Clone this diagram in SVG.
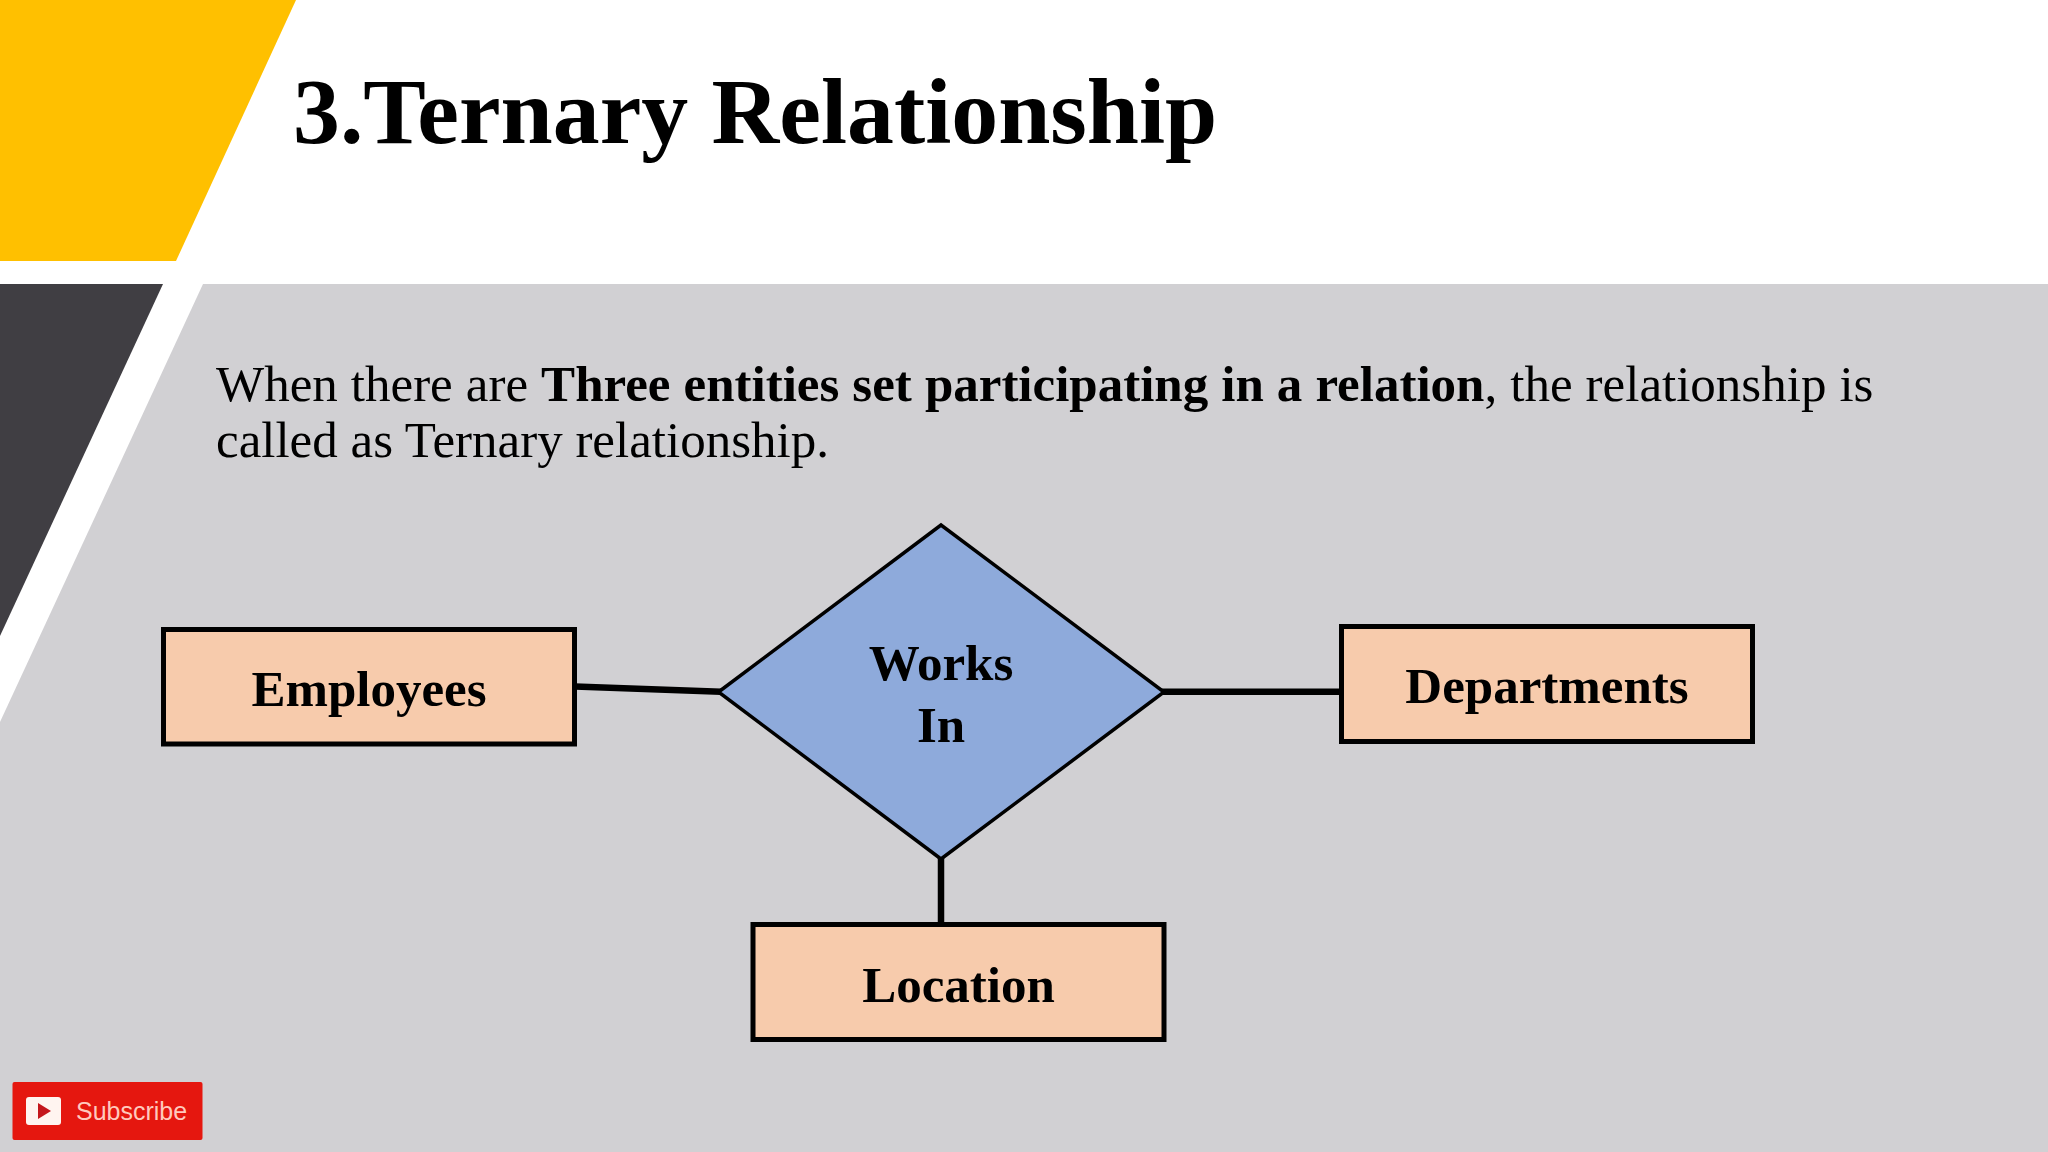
<svg xmlns="http://www.w3.org/2000/svg" width="2048" height="1152" viewBox="0 0 2048 1152">
<style>
.serif{font-family:"Liberation Serif","Times New Roman",serif;fill:#000}
.ent{fill:#F7CBAC;stroke:#000;stroke-width:5}
.lab{font-size:51px;font-weight:700;text-anchor:middle}
.con{stroke:#000;stroke-width:6.500;fill:none}
</style>
<rect width="2048" height="1152" fill="#fff"/>
<polygon points="0,0 296,0 176,261 0,261" fill="#FFC000"/>
<polygon points="0,284 163,284 0,636" fill="#403E43"/>
<polygon points="203,284 2048,284 2048,1152 0,1152 0,722" fill="#D1D0D3"/>
<text class="serif" x="293" y="143" font-size="93.800" font-weight="700">3.Ternary Relationship</text>
<text class="serif" font-size="51"><tspan x="216" y="401" word-spacing="0.300">When there are <tspan font-weight="700">Three entities set participating in a relation</tspan>, the relationship is</tspan><tspan x="216" y="457">called as Ternary relationship.</tspan></text>
<g id="connectors">
<line class="con" x1="575" y1="686.500" x2="721" y2="691.700"/>
<line class="con" x1="1161" y1="691.700" x2="1345" y2="691.700"/>
<line class="con" x1="941" y1="857" x2="941" y2="924"/>
</g>
<g id="rel-works-in">
<polygon points="718.500,692 941,525 1164,692 941,859" fill="#8EAADB" stroke="#000" stroke-width="3.500"/>
<text class="serif lab" x="941" y="680">Works</text>
<text class="serif lab" x="941" y="742">In</text>
</g>
<g id="ent-employees">
<rect class="ent" x="163.500" y="629.500" width="411" height="114.500"/>
<text class="serif lab" x="369" y="706">Employees</text>
</g>
<g id="ent-departments">
<rect class="ent" x="1341.500" y="626.500" width="411" height="115"/>
<text class="serif lab" x="1547" y="703">Departments</text>
</g>
<g id="ent-location">
<rect class="ent" x="753" y="924.500" width="411" height="115"/>
<text class="serif lab" x="958.500" y="1002">Location</text>
</g>
<g id="subscribe">
<rect x="12.500" y="1082" width="190" height="58" rx="2" fill="#E5170F"/>
<rect x="26" y="1097" width="35" height="28" rx="3" fill="#FFF4F0"/>
<polygon points="38,1103 51,1111 38,1119" fill="#C4161C"/>
<text x="76" y="1120" font-family="Liberation Sans,Arial,sans-serif" font-size="25" fill="#FFC9BD">Subscribe</text>
</g>
</svg>
